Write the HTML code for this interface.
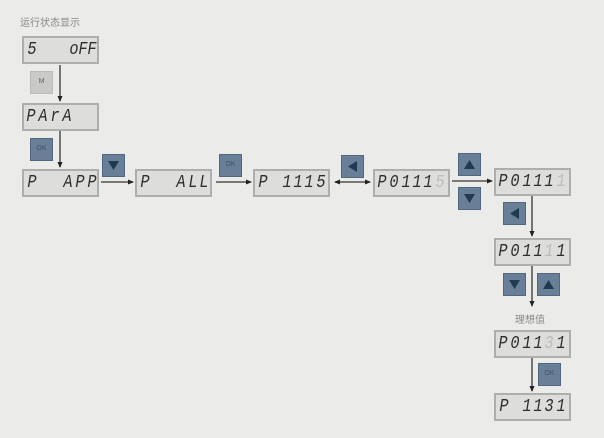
<!DOCTYPE html>
<html><head><meta charset="utf-8"><style>
body{margin:0;width:604px;height:438px;background:#ebebe9;position:relative;overflow:hidden;font-family:"Liberation Sans","Noto Sans CJK SC",sans-serif}
.b{position:absolute;width:73px;height:24px;background:#dddddb;border:2px solid #aeaeac;box-sizing:content-box}
.b span{position:absolute;top:1px;width:12px;text-align:center;font:italic normal 18px/22px "Liberation Mono",monospace;color:#2e2e2e;transform:scaleX(0.85)}
.b span.g{color:#bdbdbb}
.k{position:absolute;width:21px;height:21px;background:#687f97;border:1px solid #4f6880}
.k.m{background:#c9c9c7;border-color:#bbb}
.k i{position:absolute;left:0;right:0;top:6px;text-align:center;font:normal 7px "Liberation Sans",sans-serif;color:#3c5468}
.k.m i{color:#666}
.t{position:absolute;font-size:10px;color:#888}
svg{position:absolute;left:0;top:0}
</style></head><body>
<div class="t" style="left:20px;top:14px">运行状态显示</div>
<div class="t" style="left:515px;top:311px">理想值</div>

<svg width="604" height="438">
<defs><marker id="a" markerWidth="6" markerHeight="6" refX="5" refY="3" orient="auto" markerUnits="userSpaceOnUse"><path d="M0,0.5 L6,3 L0,5.5z" fill="#222"/></marker>
<marker id="s" markerWidth="6" markerHeight="6" refX="1" refY="3" orient="auto" markerUnits="userSpaceOnUse"><path d="M6,0.5 L0,3 L6,5.5z" fill="#222"/></marker></defs>
<g stroke="#333" stroke-width="1.3" fill="none">
<line x1="60" y1="65" x2="60" y2="101" marker-end="url(#a)"/>
<line x1="60" y1="131" x2="60" y2="167" marker-end="url(#a)"/>
<line x1="101" y1="182" x2="133" y2="182" marker-end="url(#a)"/>
<line x1="216" y1="182" x2="251" y2="182" marker-end="url(#a)"/>
<line x1="335" y1="182" x2="370" y2="182" marker-end="url(#a)" marker-start="url(#s)"/>
<line x1="452" y1="181" x2="492" y2="181" marker-end="url(#a)"/>
<line x1="532" y1="196" x2="532" y2="236" marker-end="url(#a)"/>
<line x1="532" y1="266" x2="532" y2="306" marker-end="url(#a)"/>
<line x1="532" y1="358" x2="532" y2="391" marker-end="url(#a)"/>
</g>
</svg>

<div class="b" style="left:22px;top:36px"><span style="left:2px">5</span><span style="left:44px">o</span><span style="left:53px">F</span><span style="left:62px">F</span></div>
<div class="b" style="left:22px;top:103px"><span style="left:1px">P</span><span style="left:13px">A</span><span style="left:25px">r</span><span style="left:37px">A</span></div>
<div class="b" style="left:22px;top:169px"><span style="left:2px">P</span><span style="left:38px">A</span><span style="left:50px">P</span><span style="left:62px">P</span></div>
<div class="b" style="left:135px;top:169px"><span style="left:2px">P</span><span style="left:38px">A</span><span style="left:50px">L</span><span style="left:61px">L</span></div>
<div class="b" style="left:253px;top:169px"><span style="left:2px">P</span><span style="left:26px">1</span><span style="left:37px">1</span><span style="left:48px">1</span><span style="left:60px">5</span></div>
<div class="b" style="left:373px;top:169px"><span style="left:1px">P</span><span style="left:13px">0</span><span style="left:25px">1</span><span style="left:36px">1</span><span style="left:47px">1</span><span class="g" style="left:59px">5</span></div>
<div class="b" style="left:494px;top:168px"><span style="left:1px">P</span><span style="left:13px">0</span><span style="left:25px">1</span><span style="left:36px">1</span><span style="left:47px">1</span><span class="g" style="left:59px">1</span></div>
<div class="b" style="left:494px;top:238px"><span style="left:1px">P</span><span style="left:13px">0</span><span style="left:25px">1</span><span style="left:36px">1</span><span class="g" style="left:47px">1</span><span style="left:59px">1</span></div>
<div class="b" style="left:494px;top:330px"><span style="left:1px">P</span><span style="left:13px">0</span><span style="left:25px">1</span><span style="left:36px">1</span><span class="g" style="left:47px">3</span><span style="left:59px">1</span></div>
<div class="b" style="left:494px;top:393px"><span style="left:2px">P</span><span style="left:25px">1</span><span style="left:36px">1</span><span style="left:47px">3</span><span style="left:59px">1</span></div>

<div class="k m" style="left:30px;top:71px"><i>M</i></div>
<div class="k" style="left:30px;top:138px"><i>OK</i></div>
<div class="k" style="left:102px;top:154px"><svg width="21" height="21"><path d="M5,6 L16,6 L10.5,15z" fill="#1f3a52"/></svg></div>
<div class="k" style="left:219px;top:154px"><i>OK</i></div>
<div class="k" style="left:341px;top:155px"><svg width="21" height="21"><path d="M15,5 L15,16 L6,10.5z" fill="#1f3a52"/></svg></div>
<div class="k" style="left:458px;top:153px"><svg width="21" height="21"><path d="M5,15 L16,15 L10.5,6z" fill="#1f3a52"/></svg></div>
<div class="k" style="left:458px;top:187px"><svg width="21" height="21"><path d="M5,6 L16,6 L10.5,15z" fill="#1f3a52"/></svg></div>
<div class="k" style="left:503px;top:202px"><svg width="21" height="21"><path d="M15,5 L15,16 L6,10.5z" fill="#1f3a52"/></svg></div>
<div class="k" style="left:503px;top:273px"><svg width="21" height="21"><path d="M5,6 L16,6 L10.5,15z" fill="#1f3a52"/></svg></div>
<div class="k" style="left:537px;top:273px"><svg width="21" height="21"><path d="M5,15 L16,15 L10.5,6z" fill="#1f3a52"/></svg></div>
<div class="k" style="left:538px;top:363px"><i>OK</i></div>
</body></html>
